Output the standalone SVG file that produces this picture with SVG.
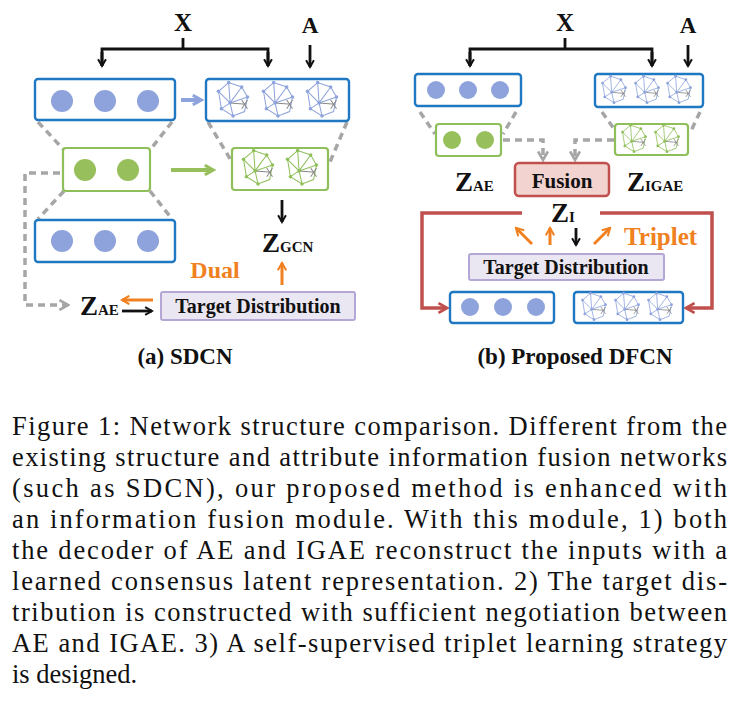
<svg xmlns="http://www.w3.org/2000/svg" xmlns:xlink="http://www.w3.org/1999/xlink" width="743" height="713" viewBox="0 0 743 713">
<style>
.bb{font-family:"Liberation Serif",serif;font-weight:bold;fill:#111}
.cap{font-family:"Liberation Serif",serif;font-size:26.5px;fill:#111}
.blue{fill:#fff;stroke:#1f78c1;stroke-width:2.4}
.green{fill:#fff;stroke:#8fbf5a;stroke-width:2.2}
.cb{fill:#8ea3dc}.cg{fill:#97bf5b}
.dash{fill:none;stroke:#a6a6a6;stroke-width:3.5;stroke-dasharray:7,5}
.blk{fill:none;stroke:#111;stroke-width:2.8}
.or{fill:none;stroke:#f08020;stroke-width:3}
.red{fill:none;stroke:#c0504d;stroke-width:3.5}
.td{fill:#ebe7f2;stroke:#b4a7d6;stroke-width:2}
</style>
<defs>
<marker id="ak" viewBox="0 0 10 10" refX="8" refY="5" markerWidth="3.5" markerHeight="3.5" orient="auto"><path d="M1,1L8,5L1,9" fill="none" stroke="#111" stroke-width="2"/></marker>
<marker id="ao" viewBox="0 0 10 10" refX="8" refY="5" markerWidth="3.5" markerHeight="3.5" orient="auto"><path d="M1,1L8,5L1,9" fill="none" stroke="#f08020" stroke-width="2"/></marker>
<marker id="ag" viewBox="0 0 10 10" refX="8" refY="5" markerWidth="3.5" markerHeight="3.5" orient="auto"><path d="M1,1L8,5L1,9" fill="none" stroke="#a6a6a6" stroke-width="2.2"/></marker>
<marker id="ar" viewBox="0 0 10 10" refX="8" refY="5" markerWidth="3.5" markerHeight="3.5" orient="auto"><path d="M1,1L8,5L1,9" fill="none" stroke="#c0504d" stroke-width="2.2"/></marker>
<marker id="abl" viewBox="0 0 10 10" refX="7" refY="5" markerWidth="3" markerHeight="3" orient="auto"><path d="M1,1L8,5L1,9" fill="none" stroke="#8ea3dc" stroke-width="2.5"/></marker>
<marker id="agr" viewBox="0 0 10 10" refX="7" refY="5" markerWidth="3" markerHeight="3" orient="auto"><path d="M1,1L8,5L1,9" fill="none" stroke="#97bf5b" stroke-width="2.5"/></marker>
<g id="gb" fill="none" stroke="#8ea3dc" stroke-width="0.7">
<path d="M-10,-6L-3,-12L6,-9L10,-2L8,8L0,11L-8,6Z"/>
<path d="M-10,-6L-2,2L6,-9M-2,2L0,11M-2,2L10,-2M-8,6L-2,2M-3,-12L-2,2"/>
<path d="M-2,2L9,3" stroke="#888"/><path d="M6,0L10,6M10,0L6,6" stroke="#888"/>
<g fill="#8ea3dc" stroke="none"><circle cx="-10" cy="-6" r="1.2"/><circle cx="-3" cy="-12" r="1.2"/><circle cx="6" cy="-9" r="1.2"/><circle cx="10" cy="-2" r="1.2"/><circle cx="0" cy="11" r="1.2"/><circle cx="-8" cy="6" r="1.2"/><circle cx="-2" cy="2" r="1.2"/></g>
</g>
<g id="gg" fill="none" stroke="#8fbf5a" stroke-width="0.7">
<path d="M-10,-6L-3,-12L6,-9L10,-2L8,8L0,11L-8,6Z"/>
<path d="M-10,-6L-2,2L6,-9M-2,2L0,11M-2,2L10,-2M-8,6L-2,2M-3,-12L-2,2"/>
<path d="M-2,2L9,3" stroke="#888"/><path d="M6,0L10,6M10,0L6,6" stroke="#888"/>
<g fill="#8fbf5a" stroke="none"><circle cx="-10" cy="-6" r="1.2"/><circle cx="-3" cy="-12" r="1.2"/><circle cx="6" cy="-9" r="1.2"/><circle cx="10" cy="-2" r="1.2"/><circle cx="0" cy="11" r="1.2"/><circle cx="-8" cy="6" r="1.2"/><circle cx="-2" cy="2" r="1.2"/></g>
</g>
</defs>

<g id="connectors">
<path class="blk" d="M102,66V49H268V66M183,49V38"/>
<path class="blk" d="M102,52V66" marker-end="url(#ak)"/><path class="blk" d="M268,52V66" marker-end="url(#ak)"/>
<path class="blk" d="M310,45V67" marker-end="url(#ak)"/>
<path d="M181,100H200" fill="none" stroke="#8ea3dc" stroke-width="4" marker-end="url(#abl)"/>
<path d="M171,170H212" fill="none" stroke="#97bf5b" stroke-width="4" marker-end="url(#agr)"/>
<path class="dash" d="M38,122L64,150M172,122L150,150M64,191L38,219M150,191L172,219M208,122L232,162M347,122L330,162"/>
<path class="dash" d="M60,173H25V305H68" marker-end="url(#ag)"/>
<path class="or" d="M153,300H122" marker-end="url(#ao)"/>
<path class="blk" d="M122,311H152" marker-end="url(#ak)"/>
<path class="blk" d="M282,200V222" marker-end="url(#ak)"/>
<path class="or" d="M282,285V263" marker-end="url(#ao)"/>
<path class="blk" d="M470,66V49H652V66M565,49V38"/>
<path class="blk" d="M470,52V66" marker-end="url(#ak)"/><path class="blk" d="M652,52V66" marker-end="url(#ak)"/>
<path class="blk" d="M688,45V66" marker-end="url(#ak)"/>
<path class="dash" d="M420,112L435,134M516,112L503,134M602,112L617,133M700,112L690,133"/>
<path class="dash" d="M503,140H543V160" marker-end="url(#ag)"/>
<path class="dash" d="M614,140H575V160" marker-end="url(#ag)"/>
<path class="red" d="M522,213H422V308H447" marker-end="url(#ar)"/>
<path class="red" d="M600,213H712V308H686" marker-end="url(#ar)"/>
<path class="or" d="M532,244L516,228" marker-end="url(#ao)"/>
<path class="or" d="M550,245V228" marker-end="url(#ao)"/>
<path class="blk" d="M576,228V245" marker-end="url(#ak)"/>
<path class="or" d="M594,244L610,228" marker-end="url(#ao)"/>
</g>

<g id="ae-enc-a"><rect class="blue" x="35" y="79" width="140" height="41" rx="3"/><circle class="cb" cx="62" cy="101" r="11"/><circle class="cb" cx="105" cy="101" r="11"/><circle class="cb" cx="148" cy="101" r="11"/></g>
<g id="ae-z-a"><rect class="green" x="63" y="148" width="87" height="43" rx="3"/><circle class="cg" cx="85" cy="170" r="11"/><circle class="cg" cx="128" cy="170" r="11"/></g>
<g id="ae-dec-a"><rect class="blue" x="35" y="220" width="140" height="42" rx="3"/><circle class="cb" cx="62" cy="241" r="11"/><circle class="cb" cx="105" cy="241" r="11"/><circle class="cb" cx="148" cy="241" r="11"/></g>
<g id="gcn-a"><rect class="blue" x="206" y="79" width="143" height="42" rx="3"/><use href="#gb" transform="translate(233,100) scale(1.45)"/><use href="#gb" transform="translate(278,100) scale(1.45)"/><use href="#gb" transform="translate(322,100) scale(1.45)"/></g>
<g id="gcn-z-a"><rect class="green" x="232" y="148" width="96" height="42" rx="3"/><use href="#gg" transform="translate(258,168) scale(1.45)"/><use href="#gg" transform="translate(302,168) scale(1.45)"/></g>
<g id="td-a"><rect class="td" x="161" y="292" width="194" height="28" rx="2"/><text class="bb" x="258" y="313" font-size="20" text-anchor="middle">Target Distribution</text></g>
<g id="labels-a">
<text class="bb" x="183" y="31" font-size="25" text-anchor="middle">X</text>
<text class="bb" x="310" y="33" font-size="23" text-anchor="middle">A</text>
<text class="bb" x="80" y="315" font-size="27">Z<tspan font-size="15">AE</tspan></text>
<text class="bb" x="262" y="252" font-size="27">Z<tspan font-size="15">GCN</tspan></text>
<text class="bb" x="215" y="278" font-size="24" text-anchor="middle" style="fill:#f08020">Dual</text>
<text class="bb" x="185" y="364" font-size="23" text-anchor="middle">(a) SDCN</text>
</g>

<g id="ae-enc-b"><rect class="blue" x="415" y="74" width="106" height="32" rx="3"/><circle class="cb" cx="436" cy="90" r="9"/><circle class="cb" cx="468" cy="90" r="9"/><circle class="cb" cx="500" cy="90" r="9"/></g>
<g id="ae-z-b"><rect class="green" x="436" y="124" width="65" height="32" rx="3"/><circle class="cg" cx="452" cy="140" r="9"/><circle class="cg" cx="485" cy="140" r="9"/></g>
<g id="igae-enc-b"><rect class="blue" x="595" y="74" width="108" height="33" rx="3"/><use href="#gb" transform="translate(614,90) scale(1.15)"/><use href="#gb" transform="translate(647,90) scale(1.15)"/><use href="#gb" transform="translate(679,90) scale(1.15)"/></g>
<g id="igae-z-b"><rect class="green" x="615" y="124" width="73" height="31" rx="3"/><use href="#gg" transform="translate(634,139) scale(1.15)"/><use href="#gg" transform="translate(667,139) scale(1.15)"/></g>
<g id="fusion"><rect x="515" y="163" width="94" height="33" rx="4" fill="#f2d3cf" stroke="#c0504d" stroke-width="2.5"/><text class="bb" x="562" y="188" font-size="21" text-anchor="middle">Fusion</text></g>
<g id="td-b"><rect class="td" x="469" y="254" width="195" height="26" rx="2"/><text class="bb" x="566" y="274" font-size="20" text-anchor="middle">Target Distribution</text></g>
<g id="ae-dec-b"><rect class="blue" x="450" y="292" width="104" height="31" rx="3"/><circle class="cb" cx="470" cy="307" r="9"/><circle class="cb" cx="503" cy="307" r="9"/><circle class="cb" cx="536" cy="307" r="9"/></g>
<g id="igae-dec-b"><rect class="blue" x="574" y="292" width="109" height="31" rx="3"/><use href="#gb" transform="translate(594,307) scale(1.15)"/><use href="#gb" transform="translate(627,307) scale(1.15)"/><use href="#gb" transform="translate(660,307) scale(1.15)"/></g>
<g id="labels-b">
<text class="bb" x="565" y="31" font-size="25" text-anchor="middle">X</text>
<text class="bb" x="688" y="33" font-size="23" text-anchor="middle">A</text>
<text class="bb" x="455" y="191" font-size="27">Z<tspan font-size="15">AE</tspan></text>
<text class="bb" x="627" y="191" font-size="27">Z<tspan font-size="15">IGAE</tspan></text>
<text class="bb" x="551" y="222" font-size="27">Z<tspan font-size="15">I</tspan></text>
<text class="bb" x="624" y="245" font-size="25" style="fill:#f08020">Triplet</text>
<text class="bb" x="575" y="364" font-size="23" text-anchor="middle">(b) Proposed DFCN</text>
</g>

<g id="caption">
<text class="cap" x="12" y="435" textLength="715" lengthAdjust="spacing">Figure 1: Network structure comparison. Different from the</text>
<text class="cap" x="12" y="466" textLength="715" lengthAdjust="spacing">existing structure and attribute information fusion networks</text>
<text class="cap" x="12" y="497" textLength="715" lengthAdjust="spacing">(such as SDCN), our proposed method is enhanced with</text>
<text class="cap" x="12" y="528" textLength="715" lengthAdjust="spacing">an information fusion module. With this module, 1) both</text>
<text class="cap" x="12" y="559" textLength="715" lengthAdjust="spacing">the decoder of AE and IGAE reconstruct the inputs with a</text>
<text class="cap" x="12" y="590" textLength="715" lengthAdjust="spacing">learned consensus latent representation. 2) The target dis-</text>
<text class="cap" x="12" y="621" textLength="715" lengthAdjust="spacing">tribution is constructed with sufficient negotiation between</text>
<text class="cap" x="12" y="652" textLength="715" lengthAdjust="spacing">AE and IGAE. 3) A self-supervised triplet learning strategy</text>
<text class="cap" x="12" y="683">is designed.</text>
</g>
</svg>
